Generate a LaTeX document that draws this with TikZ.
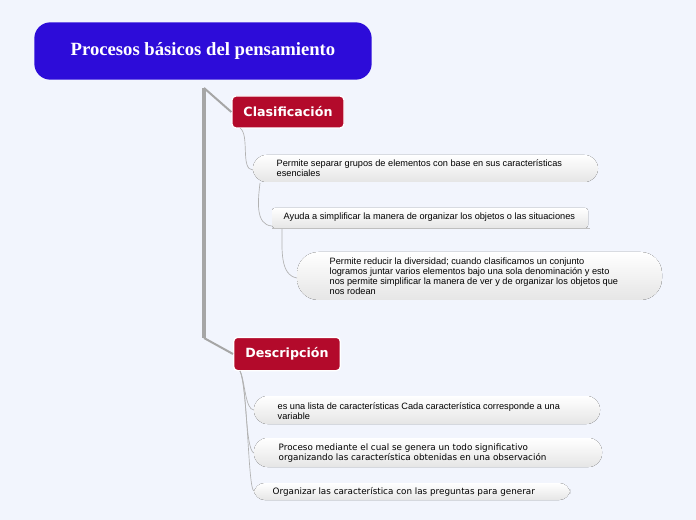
\documentclass[tikz,border=0pt]{standalone}
\usepackage{fontspec}
\setsansfont{Liberation Sans}
\setmainfont{Liberation Serif}
\newfontfamily\vfont{DejaVu Sans}
\definecolor{bg}{HTML}{F2F5FD}
\definecolor{crim}{HTML}{B30A2B}
\definecolor{tblue}{HTML}{2D0CD9}
\begin{document}
\begin{tikzpicture}[x=0.75pt,y=-0.75pt,
 cat/.style={draw=white,line width=1pt,fill=crim,rounded corners=3pt,text=white,font=\vfont\bfseries\fontsize{9.5}{11}\selectfont,align=center},
 leaf/.style={rounded corners=10pt,top color=white,bottom color=gray!20,draw=none},
 ltxt/.style={font=\sffamily\fontsize{6.9}{7.6}\selectfont,align=left,anchor=west},
 dtxt/.style={font=\vfont\fontsize{6.6}{8}\selectfont,align=left,anchor=west},
 conn/.style={draw=gray!60,line width=0.5pt}]
\fill[bg] (0,0) rectangle (696,520);
\useasboundingbox (0,0) rectangle (696,520);
% title
\node[fill=tblue,rounded corners=12pt,minimum width=253pt,minimum height=43pt,text=white,font=\bfseries\fontsize{14}{16}\selectfont] (title) at (203,51) {Procesos básicos del pensamiento};
% categories
\node[cat,minimum width=84pt,minimum height=24pt] (cla) at (288,112) {Clasificación};
\node[cat,minimum width=80pt,minimum height=25pt] (des) at (287,354) {Descripción};
% trunk
\coordinate (t1) at (204,88); \coordinate (t2) at (204,338);
\draw[gray!70,line width=3.5pt] (t1) -- (t2);
\draw[gray!70,line width=1.5pt] (t1) -- (cla.west);
\draw[gray!70,line width=1.5pt] (t2) -- (des.west);
% leaves
\fill[leaf] (253,155) rectangle (598,182); \coordinate (l1) at (253,170);
\node[ltxt] (L1) at (272,168) {Permite separar grupos de elementos con base en sus características\\esenciales};
\fill[leaf,rounded corners=2pt] (272,208) rectangle (588,228); \draw[gray!50,line width=0.4pt] (272,228)--(590,228); \coordinate (l2) at (272,226);
\node[ltxt] (L2) at (279,217) {Ayuda a simplificar la manera de organizar los objetos o las situaciones};
\fill[leaf,rounded corners=16pt] (297,252) rectangle (662,300); \coordinate (l3) at (297,278);
\node[ltxt] (L3) at (325,276) {Permite reducir la diversidad; cuando clasificamos un conjunto\\logramos juntar varios elementos bajo una sola denominación y esto\\nos permite simplificar la manera de ver y de organizar los objetos que\\nos rodean};
\fill[leaf] (254,396) rectangle (600,424); \coordinate (d1) at (254,410);
\node[ltxt] (D1) at (273,411) {es una lista de características Cada característica corresponde a una\\variable};
\fill[leaf] (254,438) rectangle (602,467); \coordinate (d2) at (254,453);
\node[dtxt] (D2) at (274,453) {Proceso mediante el cual se genera un todo significativo\\organizando las característica obtenidas en una observación};
\fill[leaf,rounded corners=8pt] (254,483) rectangle (570,500); \coordinate (d3) at (254,491);
\node[dtxt] (D3) at (268,492) {Organizar las característica con las preguntas para generar};
% connectors
\coordinate (c1) at (240,128); \coordinate (c2) at (260,183);\coordinate (c3) at (282,229);
\draw[conn] (c1) .. controls (250,135) and (240,170) .. (l1);
\draw[conn] (c2) .. controls (258,200) and (255,225) .. (l2);
\draw[conn] (c3) .. controls (282,250) and (280,275) .. (l3);
\coordinate (e1) at (240,371);
\draw[conn] (e1) .. controls (245,380) and (245,410) .. (d1);
\draw[conn] (e1) .. controls (247,385) and (245,450) .. (d2);
\draw[conn] (e1) .. controls (248,390) and (248,490) .. (d3);
\end{tikzpicture}
\end{document}
